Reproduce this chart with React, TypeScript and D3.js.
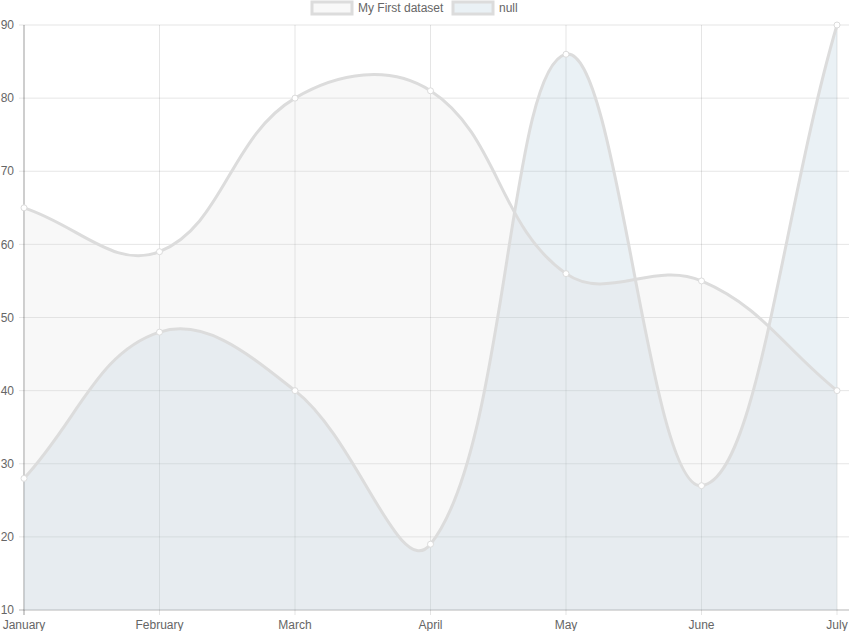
import React from "react";
import * as d3 from "d3";

const categories = ["January", "February", "March", "April", "May", "June", "July"];
const series1Name = "My First dataset";
const series1 = [65, 59, 80, 81, 56, 55, 40];
const series2Name = "null";
const series2 = [28, 48, 40, 19, 86, 27, 90];
const yTicks = [10, 20, 30, 40, 50, 60, 70, 80, 90];

const W = 850;
const H = 631;
const left = 24;
const right = 837;
const top = 25;
const bottom = 610;

type P = { x: number; y: number };

function splinePath(pts: P[], tension: number, area: boolean, baseY: number): string {
  const cps = pts.map((cur, i) => {
    const prev = i === 0 ? cur : pts[i - 1];
    const next = i === pts.length - 1 ? cur : pts[i + 1];
    const d01 = Math.hypot(cur.x - prev.x, cur.y - prev.y);
    const d12 = Math.hypot(next.x - cur.x, next.y - cur.y);
    let s01 = d01 / (d01 + d12);
    let s12 = d12 / (d01 + d12);
    if (isNaN(s01)) s01 = 0;
    if (isNaN(s12)) s12 = 0;
    const fa = tension * s01;
    const fb = tension * s12;
    const clampX = (v: number) => Math.max(left, Math.min(right, v));
    const clampY = (v: number) => Math.max(top, Math.min(bottom, v));
    return {
      prev: { x: clampX(cur.x - fa * (next.x - prev.x)), y: clampY(cur.y - fa * (next.y - prev.y)) },
      next: { x: clampX(cur.x + fb * (next.x - prev.x)), y: clampY(cur.y + fb * (next.y - prev.y)) },
    };
  });
  let d = `M${pts[0].x},${pts[0].y}`;
  for (let i = 1; i < pts.length; i++) {
    const a = cps[i - 1].next;
    const b = cps[i].prev;
    d += `C${a.x},${a.y},${b.x},${b.y},${pts[i].x},${pts[i].y}`;
  }
  if (area) {
    d += `L${pts[pts.length - 1].x},${baseY}L${pts[0].x},${baseY}Z`;
  }
  return d;
}

export default function App() {
  const x = d3.scalePoint<string>().domain(categories).range([left, right]);
  const y = d3.scaleLinear().domain([10, 90]).range([bottom, top]);

  const pts1 = series1.map((v, i) => ({ x: x(categories[i])!, y: y(v) }));
  const pts2 = series2.map((v, i) => ({ x: x(categories[i])!, y: y(v) }));

  const font = "'Helvetica Neue', Helvetica, Arial, 'Liberation Sans', sans-serif";
  const grid = "rgba(0,0,0,0.1)";

  const datasets = [
    { pts: pts2, fill: "rgba(151,187,205,0.2)", stroke: "rgba(220,220,220,1)" },
    { pts: pts1, fill: "rgba(220,220,220,0.2)", stroke: "rgba(220,220,220,1)" },
  ];

  return (
    <svg width={W} height={H} style={{ position: "absolute", left: 0, top: 0, fontFamily: font }}>
      <rect width={W} height={H} fill="#fff" />
      {yTicks.map((t) => (
        <g key={"y" + t}>
          <line x1={19} x2={849} y1={y(t)} y2={y(t)} stroke={grid} strokeWidth={1} />
          <text x={14} y={y(t)} dy="0.35em" textAnchor="end" fontSize={12} fill="#666">
            {t}
          </text>
        </g>
      ))}
      {categories.map((c) => (
        <g key={c}>
          <line x1={x(c)!} x2={x(c)!} y1={top} y2={615} stroke={grid} strokeWidth={1} />
          <text x={x(c)!} y={629} textAnchor="middle" fontSize={12} fill="#666">
            {c}
          </text>
        </g>
      ))}
      <line x1={left} x2={left} y1={top} y2={615} stroke="rgba(0,0,0,0.3)" strokeWidth={1} />
      <line x1={19} x2={849} y1={bottom} y2={bottom} stroke="rgba(0,0,0,0.2)" strokeWidth={1} />
      {datasets.map((ds, i) => (
        <path key={"a" + i} d={splinePath(ds.pts, 0.4, true, bottom)} fill={ds.fill} stroke="none" />
      ))}
      {datasets.map((ds, i) => (
        <path key={"l" + i} d={splinePath(ds.pts, 0.4, false, bottom)} fill="none" stroke={ds.stroke} strokeWidth={3} />
      ))}
      {datasets.map((ds, i) =>
        ds.pts.map((p, j) => (
          <circle key={"p" + i + "-" + j} cx={p.x} cy={p.y} r={3} fill="#fff" stroke={ds.stroke} strokeWidth={1} />
        ))
      )}
      <g>
        <rect x={312} y={2} width={40} height={12} fill="rgba(220,220,220,0.2)" stroke="rgba(220,220,220,1)" strokeWidth={3} />
        <text x={358} y={8} dy="0.35em" fontSize={12} fill="#666">
          {series1Name}
        </text>
        <rect x={453} y={2} width={40} height={12} fill="rgba(151,187,205,0.2)" stroke="rgba(220,220,220,1)" strokeWidth={3} />
        <text x={499} y={8} dy="0.35em" fontSize={12} fill="#666">
          {series2Name}
        </text>
      </g>
    </svg>
  );
}
